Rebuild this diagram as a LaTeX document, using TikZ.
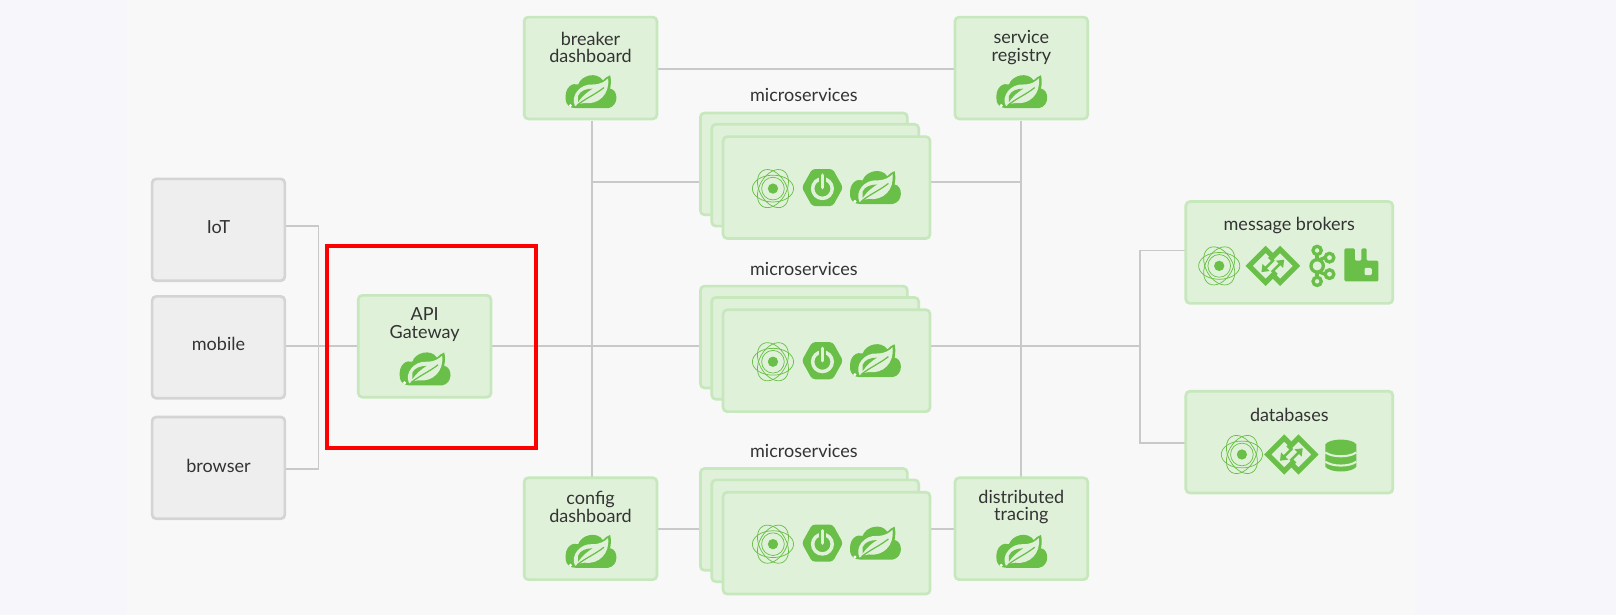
\documentclass[tikz,border=0pt]{standalone}
\usepackage{fontspec}
\setmainfont{Lato}
\definecolor{pagebg}{HTML}{F8F8F8}
\definecolor{sidebg}{HTML}{F7F7FB}
\definecolor{gfill}{HTML}{E0F1DA}
\definecolor{gline}{HTML}{C6E8BC}
\definecolor{icon}{HTML}{69BF47}
\definecolor{grayfill}{HTML}{EEEEEE}
\definecolor{grayline}{HTML}{D4D4D4}
\definecolor{wire}{HTML}{C9C9C9}
\definecolor{ink}{HTML}{333333}
\tikzset{
  x=0.5pt,y=-0.5pt,
  boxbase/.style={line width=1.3pt,rounded corners=2pt,inner sep=0pt,outer sep=0pt,anchor=north west,xshift=0.3pt,yshift=-0.3pt},
  greenbox/.style={boxbase,draw=gline,fill=gfill},
  graybox/.style={boxbase,draw=grayline,fill=grayfill},
  small/.style={minimum width=64.4pt,minimum height=49.4pt},
  wide/.style={minimum width=100.4pt,minimum height=49.4pt},
  wirel/.style={draw=wire,line width=0.9pt},
  lab/.style={font=\fontsize{8.75}{8.6}\selectfont,text=ink,align=center,inner sep=0pt},
  pics/leafcloud/.style={code={
    \fill[icon] (-24,9) .. controls (-26,-5) and (-17,-9) .. (-12,-7)
       .. controls (-9,-16) and (6,-20) .. (12,-11)
       .. controls (14,-13) and (16,-15) .. (19,-16)
       .. controls (20,-12) and (20,-8) .. (19,-3)
       .. controls (27,-2) and (28,14) .. (17,16) -- (-14,16) .. controls (-20,16) and (-23,13) .. (-24,9) -- cycle;
    \fill[gfill] (-15,14) .. controls (-20,4) and (-10,-8) .. (2,-7) .. controls (10,-7) and (14,-10) .. (17,-13)
       .. controls (19,2) and (8,13) .. (-6,11) .. controls (-9,11) and (-12,12) .. (-15,14) -- cycle;
    \fill[icon] (-12,4) .. controls (-10,-1) and (-4,-3) .. (2,-3) .. controls (-3,0) and (-8,4) .. (-12,10) -- cycle;
    \draw[icon,line width=0.6pt] (-13,13) .. controls (-4,6) and (4,3) .. (13,-4);
    \fill[white] (-19.5,13.5) circle (1.6);
  }},
  pics/atom/.style={code={
    \fill[icon] (0,0) circle (5);
    \draw[icon,line width=0.35pt] (0,0) circle (11);
    \foreach \a in {0,60,120}{
      \draw[icon,line width=0.35pt,rotate=\a] (0,0) ellipse (20 and 13);
    }
  }},
  pics/boot/.style={code={
    \fill[icon,rounded corners=1.5pt] (-20,0) -- (-10,-18) -- (10,-18) -- (20,0) -- (10,18) -- (-10,18) -- cycle;
    \draw[gfill,line width=1.7pt] (0,1) circle (9.5);
    \draw[icon,line width=3.6pt] (0,-12) -- (0,-3);
    \draw[gfill,line width=1.7pt,line cap=round] (0,-12) -- (0,0);
  }},
  pics/dialect/.style={code={
    \begin{scope}[line width=2.5pt,icon,line join=miter]
    \draw (0,-9) -- (-7,-16) -- (-23,0) -- (-7,16) -- (3,6);
    \draw (0,9) -- (7,16) -- (23,0) -- (7,-16) -- (-3,-6);
    \draw[line width=1.2pt] (-8,3) -- (1,-6);
    \draw[line width=1.2pt] (8,-3) -- (-1,6);
    \end{scope}
    \fill[icon] (-10,-2) -- (-11,6) -- (-3,5) -- cycle;
    \fill[icon] (10,2) -- (11,-6) -- (3,-5) -- cycle;
  }},
  pics/kafka/.style={code={
    \begin{scope}[icon,line width=1.6pt]
    \draw (-3,-16) -- (-3,16);
    \draw (-3,-5) -- (9,-10) (-3,5) -- (9,10);
    \draw[fill=gfill] (-3,-15) circle (4);
    \draw[fill=gfill] (-3,15) circle (4);
    \draw[fill=gfill] (-3,0) circle (6);
    \draw[fill=gfill] (9,-8) circle (4.2);
    \draw[fill=gfill] (9,8) circle (4.2);
    \end{scope}
  }},
  pics/rabbit/.style={code={
    \fill[icon,rounded corners=0.6pt] (-16.5,-16) -- (-6.5,-16) -- (-6.5,-4) -- (0,-4) -- (0,-16) -- (5,-16) -- (5,-4) -- (16.5,-4) -- (16.5,16) -- (-16.5,16) -- cycle;
    \fill[gfill,rounded corners=0.6pt] (3,3) rectangle (10,10);
  }},
  pics/dbstack/.style={code={
    \fill[icon] (-15,-11) -- (-15,11) .. controls (-10,17) and (10,17) .. (15,11) -- (15,-11) .. controls (10,-17) and (-10,-17) .. (-15,-11) -- cycle;
    \draw[gfill,line width=1pt] (-15,-3) .. controls (-8,2) and (8,2) .. (15,-3);
    \draw[gfill,line width=1pt] (-15,6) .. controls (-8,11) and (8,11) .. (15,6);
  }},
}
\newcommand{\micro}[3]{%
  \node[lab] (#1lab) at (780,#3) {microservices};
  \node[greenbox,wide] (#1c) at (679,#2-23) {};
  \node[greenbox,wide] (#1b) at (690,#2-12) {};
  \node[greenbox,wide] (#1a) at (701,#2) {};
  \pic at (750,#2+51) {atom};
  \pic at (798,#2+50) {boot};
  \pic at (849,#2+50) {leafcloud};
}
\begin{document}
\begin{tikzpicture}
\useasboundingbox (0,0) rectangle (1568,597);
\fill[sidebg] (0,0) rectangle (1568,597);
\fill[pagebg] (123,0) rectangle (1373,597);
% junctions
\coordinate (jt1) at (574,177); \coordinate (jt2) at (991,177);
\coordinate (jl1) at (309,219); \coordinate (jl2) at (309,455);
\coordinate (jr1) at (1106,243); \coordinate (jr2) at (1106,430); \coordinate (jr0) at (1106,336);
\coordinate (m1l) at (679,177); \coordinate (m1r) at (903,177);
\coordinate (m2l) at (679,336); \coordinate (m2r) at (903,336);
\coordinate (m3l) at (679,513); \coordinate (m3r) at (903,513);
% wires
\path (638,67) coordinate (bre) (926,67) coordinate (rgw)
      (277,336) coordinate (mbe) (347,336) coordinate (apw) (477,336) coordinate (ape)
      (638,513) coordinate (cfe) (926,513) coordinate (trw)
      (277,219) coordinate (ioe) (277,455) coordinate (bre2)
      (1150,243) coordinate (brw) (1150,430) coordinate (dbw)
      (574,117) coordinate (bs) (574,463) coordinate (cn)
      (991,117) coordinate (rs) (991,463) coordinate (tn);
\draw[wirel] (bs) -- (cn);
\draw[wirel] (rs) -- (tn);
\draw[wirel] (bre) -- (rgw);
\draw[wirel] (ioe) -- (jl1) -- (jl2) -- (bre2);
\draw[wirel] (mbe) -- (apw);
\draw[wirel] (ape) -- (m2l);
\draw[wirel] (m2r) -- (jr0);
\draw[wirel] (jt1) -- (m1l);
\draw[wirel] (m1r) -- (jt2);
\draw[wirel] (cfe) -- (m3l);
\draw[wirel] (m3r) -- (trw);
\draw[wirel] (brw) -- (jr1) -- (jr2) -- (dbw);
% boxes
\node[graybox,small] (iot) at (147,173) {};
\node[graybox,small] (mobile) at (147,287) {};
\node[graybox,small] (browser) at (147,404) {};
\node[greenbox,small] (api) at (347,286) {};
\node[greenbox,small] (breaker) at (508,16) {};
\node[greenbox,small] (config) at (508,463) {};
\node[greenbox,small] (registry) at (926,16) {};
\node[greenbox,small] (tracing) at (926,463) {};
\node[greenbox,wide] (brokers) at (1150,195) {};
\node[greenbox,wide] (db) at (1150,379) {};
\micro{a}{132}{92}
\micro{b}{300}{261}
\micro{d}{477}{438}
% red frame
\node[draw=red,line width=1.8pt,minimum width=101.3pt,minimum height=98.2pt,inner sep=0pt,outer sep=0pt,anchor=north west] (focus) at (317.5,238.5) {};
% labels
\node[lab] (tiot) at (212,220) {IoT};
\node[lab] (tmob) at (212,334) {mobile};
\node[lab] (tbro) at (212,452) {browser};
\node[lab] (tapi) at (412,315) {API\\Gateway};
\node[lab] (tbr) at (573,46) {breaker\\dashboard};
\node[lab] (tcf) at (573,492) {config\\dashboard};
\node[lab] (tre) at (991,46) {service\\registry};
\node[lab] (ttr) at (991,492) {distributed\\tracing};
\node[lab] (tmb) at (1251,219) {message brokers};
\node[lab] (tdb) at (1251,403) {databases};
% icons
\pic at (412,358) {leafcloud};
\pic at (573,89) {leafcloud};
\pic at (573,535) {leafcloud};
\pic at (991,89) {leafcloud};
\pic at (991,535) {leafcloud};
\pic at (1183,258) {atom};
\pic at (1235,258) {dialect};
\pic at (1281,258) {kafka};
\pic at (1321,257) {rabbit};
\pic at (1205,441) {atom};
\pic at (1253,441) {dialect};
\pic at (1301,442) {dbstack};
\end{tikzpicture}
\end{document}
